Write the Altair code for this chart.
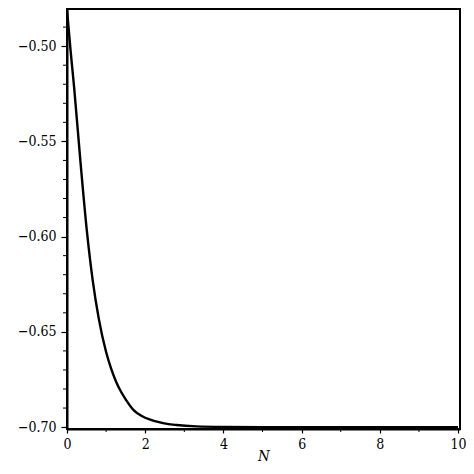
import altair as alt
import pandas as pd

# Curve values
N_vals = [0, 0.09, 0.18, 0.35, 0.51, 0.66, 0.81, 1.0, 1.12, 1.25, 1.375,
          1.5, 1.71, 1.9, 2.13, 2.35, 2.56, 2.8, 3.3, 4, 5, 6, 7, 8, 9, 10]
v_vals = [-0.481, -0.502, -0.5211, -0.5621, -0.5974, -0.6234, -0.6428, -0.6606,
          -0.6688, -0.6759, -0.6812, -0.6854, -0.6912, -0.694, -0.6961, -0.6974,
          -0.6983, -0.6989, -0.6996, -0.6999, -0.70, -0.70, -0.70, -0.70, -0.70, -0.70]

x_ticks = [0, 2, 4, 6, 8, 10]
x_minor = [1, 3, 5, 7, 9]
y_ticks = [-0.70, -0.65, -0.60, -0.55, -0.50]
y_minor = [-0.69, -0.68, -0.67, -0.66, -0.64, -0.63, -0.62, -0.61,
           -0.59, -0.58, -0.57, -0.56, -0.54, -0.53, -0.52, -0.51, -0.49]

W, H = 393, 420
FONT = "DejaVu Serif Condensed, DejaVu Serif, serif"

df = pd.DataFrame({"N": N_vals, "v": v_vals})
xs = alt.Scale(domain=[0, 10.05], nice=False, zero=False)
ys = alt.Scale(domain=[-0.701, -0.4805], nice=False, zero=False)

line = alt.Chart(df).mark_line(
    color="black", strokeWidth=2.4, interpolate="monotone", clip=True
).encode(
    x=alt.X("N:Q", scale=xs, axis=alt.Axis(
        values=x_ticks, format="d", title="N", tickSize=4, labelPadding=4,
        titlePadding=-3, labelFlush=False)),
    y=alt.Y("v:Q", scale=ys, axis=alt.Axis(
        values=y_ticks, format=".2f", title=None, tickSize=6, labelPadding=5)),
)

ymin = alt.Chart(pd.DataFrame({"v": y_minor})).mark_rule(
    color="black", strokeWidth=1
).encode(
    y=alt.Y("v:Q", scale=ys),
    x=alt.value(-4), x2=alt.value(0),
)

xmin = alt.Chart(pd.DataFrame({"N": x_minor})).mark_rule(
    color="black", strokeWidth=1
).encode(
    x=alt.X("N:Q", scale=xs),
    y=alt.value(H), y2=alt.value(H + 3),
)

chart = alt.layer(line, ymin, xmin).properties(
    width=W, height=H,
    autosize=alt.AutoSizeParams(type="none"),
    padding={"left": 59, "top": 1, "right": 6, "bottom": 37},
).configure_view(
    stroke="black", strokeWidth=2
).configure_axis(
    grid=False, domainColor="black", domainWidth=2, tickColor="black",
    tickWidth=1.2, labelFont=FONT, labelFontSize=14, labelColor="black",
    titleFont=FONT, titleFontSize=15, titleFontStyle="italic",
    titleFontWeight="normal", titleColor="black",
)

chart.save("out.html", embed_options={"renderer": "svg", "actions": False})
